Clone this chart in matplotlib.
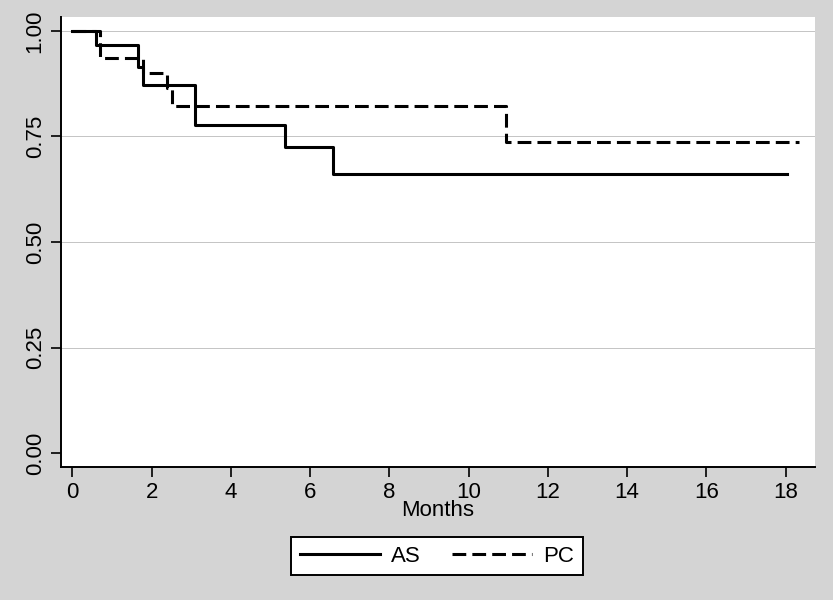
import numpy as np
import matplotlib
matplotlib.use("Agg")
import matplotlib.pyplot as plt

plt.rcParams['font.family'] = ['Liberation Sans Narrow', 'Liberation Sans', 'DejaVu Sans']

# Kaplan-Meier estimates
as_months = [0, 0.59, 1.65, 1.79, 3.09, 5.37, 6.57, 18.03]
as_surv = [1.0, 0.966, 0.915, 0.872, 0.777, 0.726, 0.660, 0.660]

pc_months = [0, 0.69, 1.79, 2.38, 2.50, 10.95, 18.35]
pc_surv = [1.0, 0.937, 0.900, 0.864, 0.821, 0.737, 0.737]

xticks = list(range(0, 19, 2))
yticks = [0.0, 0.25, 0.5, 0.75, 1.0]

fig = plt.figure(figsize=(8.33, 6.0), dpi=100)
fig.patch.set_facecolor('#d4d4d4')
ax = fig.add_axes([0.0732, 0.2217, 0.905, 0.75])
ax.set_facecolor('white')

for yy in yticks[1:]:
    ax.axhline(yy, color='#c4c4c4', lw=0.7, zorder=0)

l1, = ax.step(as_months, as_surv, where='post', color='black', lw=2.2, label='AS')
l2, = ax.step(pc_months, pc_surv, where='post', color='black', lw=2.2,
              dashes=(4.5, 2.0), label='PC')

ax.set_xlim(-0.29, 18.74)
ax.set_ylim(-0.033, 1.033)
ax.set_xticks(xticks)
ax.set_yticks(yticks)
ax.set_yticklabels(['%.2f' % v for v in yticks], rotation=90, va='center')
ax.tick_params(direction='out', length=7, width=1.2, labelsize=16, pad=4)
ax.set_xlabel('Months', fontsize=16, labelpad=-2)

for s in ['top', 'right']:
    ax.spines[s].set_visible(False)
for s in ['left', 'bottom']:
    ax.spines[s].set_linewidth(1.4)

leg = fig.legend(handles=[l1, l2], loc='center', bbox_to_anchor=(0.5246, 0.0733),
                 ncol=2, fontsize=16, frameon=True, fancybox=False,
                 handlelength=3.6, handletextpad=0.5, columnspacing=1.4,
                 borderpad=0.4, edgecolor='black', facecolor='white', framealpha=1)
leg.get_frame().set_linewidth(1.4)

fig.savefig('out.png', dpi=100, facecolor=fig.get_facecolor())
